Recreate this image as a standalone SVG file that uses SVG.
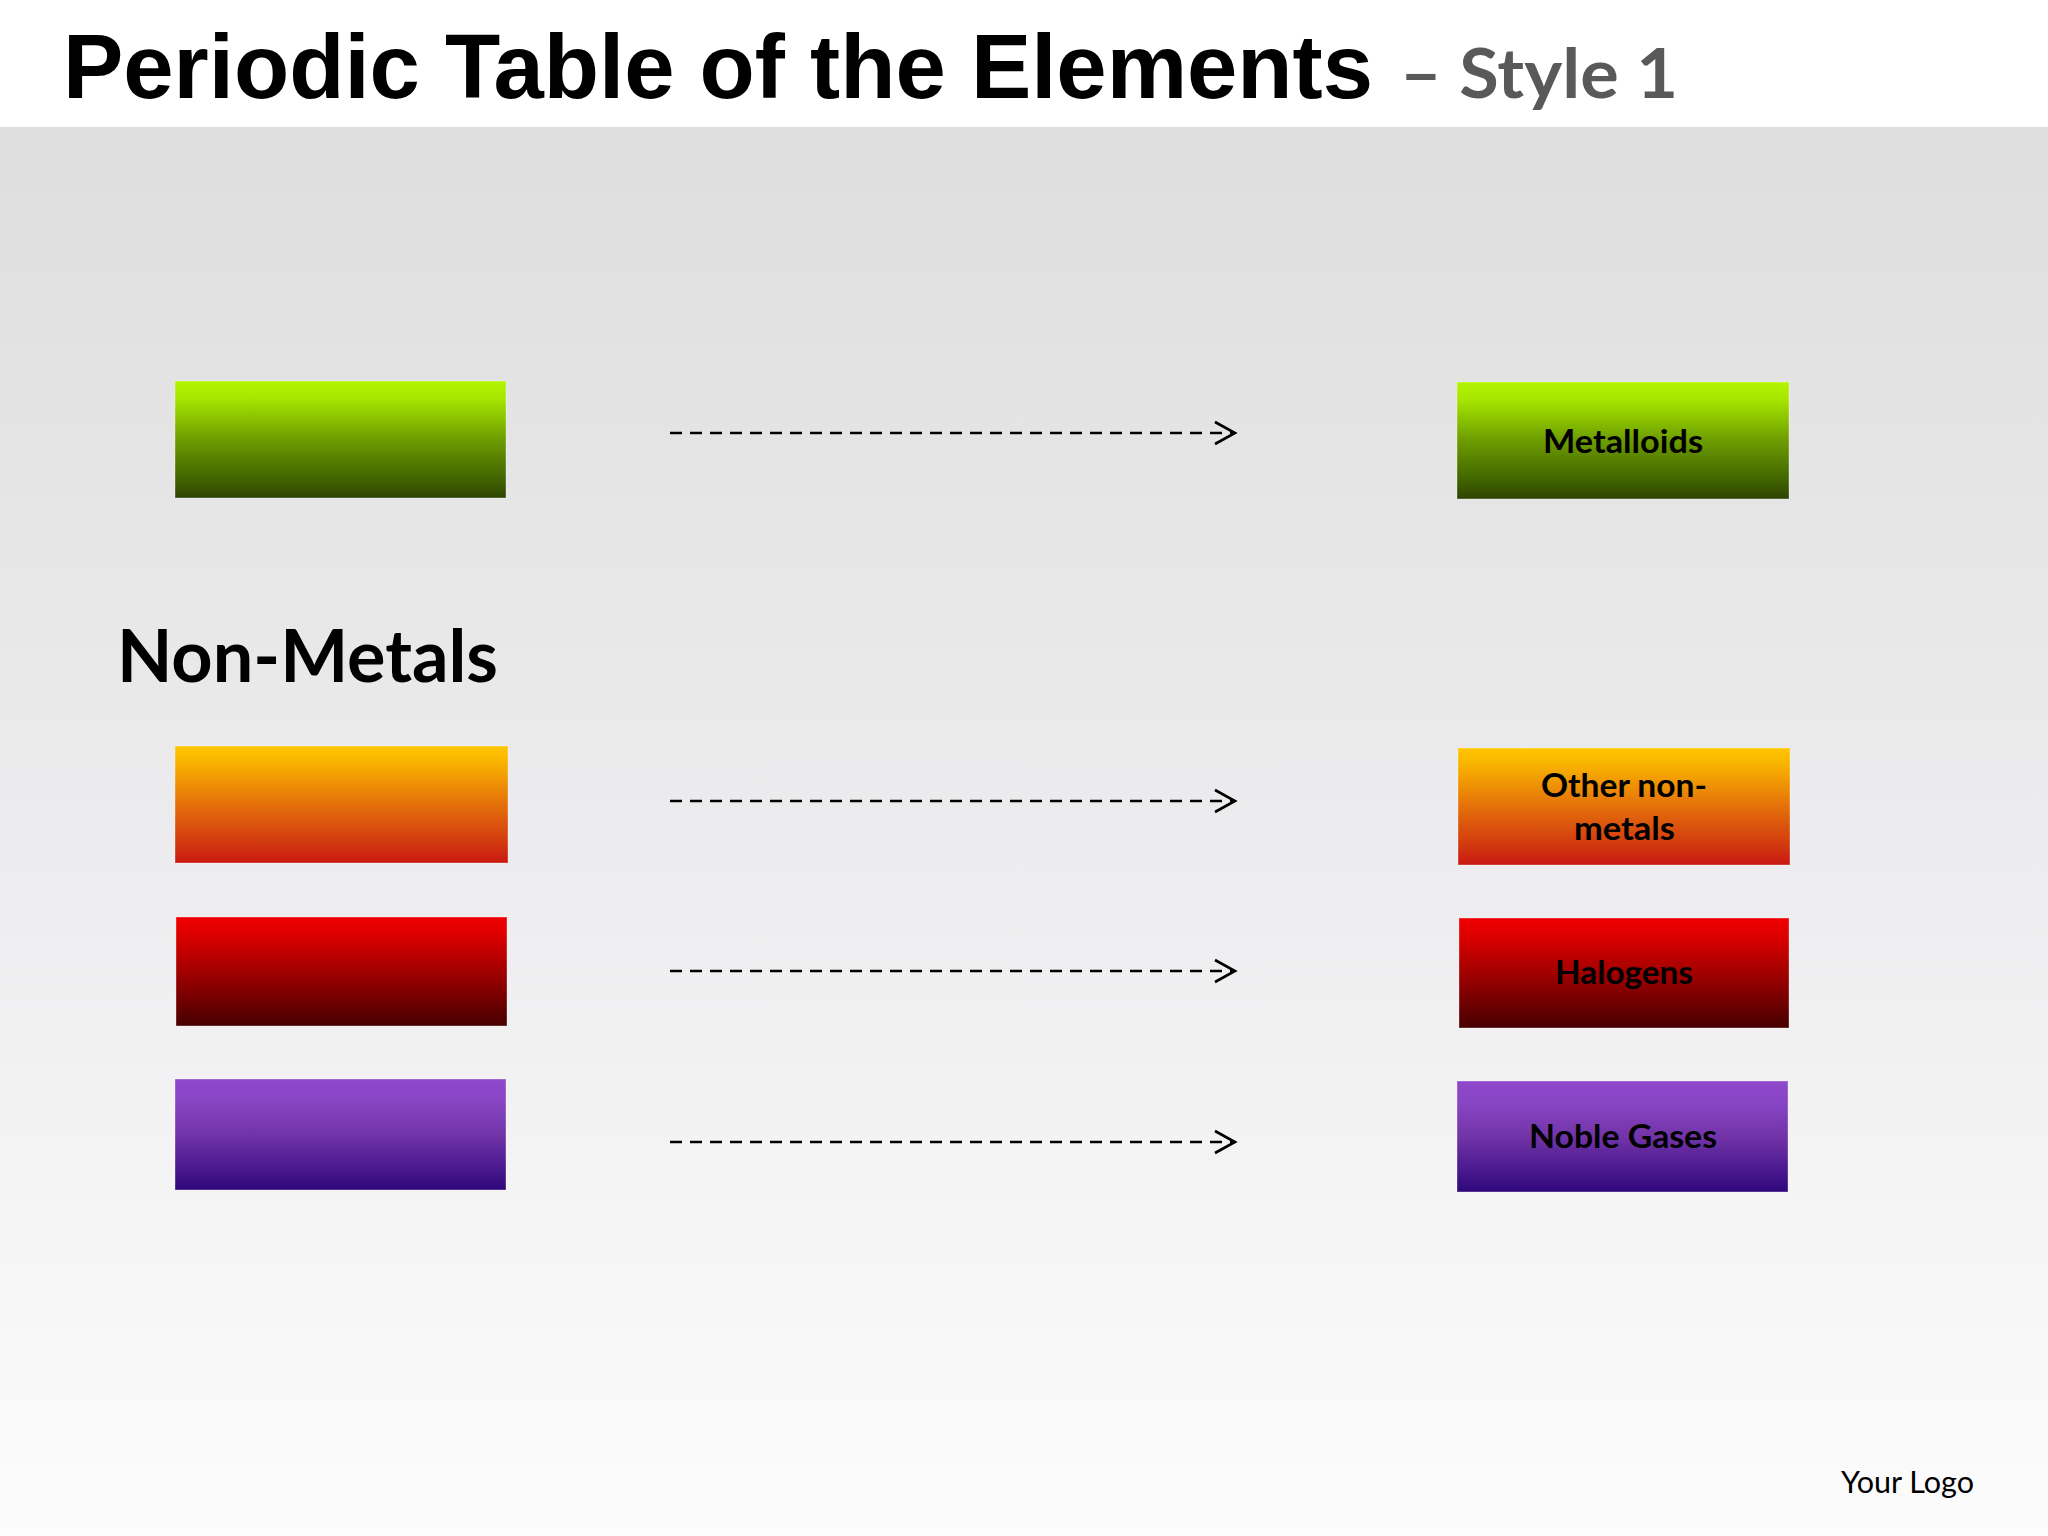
<svg xmlns="http://www.w3.org/2000/svg" width="2048" height="1536" viewBox="0 0 2048 1536">
  <defs>
    <linearGradient id="bg" x1="0" y1="0" x2="0" y2="1">
      <stop offset="0" stop-color="#dedede"/>
      <stop offset="0.5" stop-color="#ececee"/>
      <stop offset="1" stop-color="#fcfcfd"/>
    </linearGradient>
    <linearGradient id="gGreen" x1="0" y1="0" x2="0" y2="1">
      <stop offset="0" stop-color="#b4f500"/>
      <stop offset="0.15" stop-color="#a6e600"/>
      <stop offset="0.5" stop-color="#6d9c00"/>
      <stop offset="0.85" stop-color="#3f6200"/>
      <stop offset="1" stop-color="#2e4400"/>
    </linearGradient>
    <linearGradient id="gOrange" x1="0" y1="0" x2="0" y2="1">
      <stop offset="0" stop-color="#ffc600"/>
      <stop offset="0.12" stop-color="#fab600"/>
      <stop offset="0.5" stop-color="#e4700a"/>
      <stop offset="0.85" stop-color="#d13510"/>
      <stop offset="1" stop-color="#c91812"/>
    </linearGradient>
    <linearGradient id="gRed" x1="0" y1="0" x2="0" y2="1">
      <stop offset="0" stop-color="#f00000"/>
      <stop offset="0.15" stop-color="#df0000"/>
      <stop offset="0.5" stop-color="#a20000"/>
      <stop offset="0.85" stop-color="#620000"/>
      <stop offset="1" stop-color="#460000"/>
    </linearGradient>
    <linearGradient id="gPurple" x1="0" y1="0" x2="0" y2="1">
      <stop offset="0" stop-color="#8f49cc"/>
      <stop offset="0.2" stop-color="#8845c4"/>
      <stop offset="0.5" stop-color="#7234a8"/>
      <stop offset="0.8" stop-color="#4a1990"/>
      <stop offset="1" stop-color="#2e077a"/>
    </linearGradient>
    <marker id="chev" markerUnits="userSpaceOnUse" markerWidth="30" markerHeight="30" refX="22" refY="12" orient="auto" viewBox="0 0 30 24">
      <path d="M2,1 L22,12 L2,23" fill="none" stroke="#000" stroke-width="2.6"/>
    </marker>
  </defs>
  <style>
    .box { stroke: #ffffff; stroke-opacity: 0.35; stroke-width: 1; }
    .conn { fill: none; stroke: #000; stroke-width: 2.6; stroke-dasharray: 12 8; marker-end: url(#chev); }
    .lbl { font-family: Lato, "Open Sans", "Liberation Sans", sans-serif; font-weight: 700; font-size: 32px; fill: #000; text-anchor: start; }
  </style>

  <rect x="0" y="0" width="2048" height="1536" fill="#ffffff"/>
  <rect x="0" y="127" width="2048" height="1409" fill="url(#bg)"/>

  <g id="title">
    <text x="63" y="98" font-family="'Liberation Sans', Arial, sans-serif" font-weight="700" font-size="90" fill="#000" textLength="1310" lengthAdjust="spacingAndGlyphs">Periodic Table of the Elements</text>
    <text x="1400" y="98" font-family="Lato, 'Open Sans', sans-serif" font-weight="700" font-size="68" fill="#595959" textLength="278" lengthAdjust="spacingAndGlyphs">– Style 1</text>
  </g>

  <g id="heading-nonmetals">
    <text x="117" y="682" font-family="Lato, 'Open Sans', sans-serif" font-weight="700" font-size="72" fill="#000" textLength="381" lengthAdjust="spacingAndGlyphs">Non-Metals</text>
  </g>

  <g id="left-green"><rect class="box" x="175" y="381" width="331" height="117" fill="url(#gGreen)"/></g>
  <g id="left-orange"><rect class="box" x="175" y="746" width="333" height="117" fill="url(#gOrange)"/></g>
  <g id="left-red"><rect class="box" x="176" y="917" width="331" height="109" fill="url(#gRed)"/></g>
  <g id="left-purple"><rect class="box" x="175" y="1079" width="331" height="111" fill="url(#gPurple)"/></g>

  <g id="metalloids">
    <rect class="box" x="1457" y="382" width="332" height="117" fill="url(#gGreen)"/>
    <text class="lbl" x="1543" y="453" textLength="160" lengthAdjust="spacingAndGlyphs">Metalloids</text>
  </g>
  <g id="other-nonmetals">
    <rect class="box" x="1458" y="748" width="332" height="117" fill="url(#gOrange)"/>
    <text class="lbl" x="1541" y="797" textLength="166" lengthAdjust="spacingAndGlyphs">Other non-</text>
    <text class="lbl" x="1574" y="840" textLength="101" lengthAdjust="spacingAndGlyphs">metals</text>
  </g>
  <g id="halogens">
    <rect class="box" x="1459" y="918" width="330" height="110" fill="url(#gRed)"/>
    <text class="lbl" x="1555" y="984" textLength="138" lengthAdjust="spacingAndGlyphs">Halogens</text>
  </g>
  <g id="noble-gases">
    <rect class="box" x="1457" y="1081" width="331" height="111" fill="url(#gPurple)"/>
    <text class="lbl" x="1529" y="1148" textLength="188" lengthAdjust="spacingAndGlyphs">Noble Gases</text>
  </g>

  <g id="connectors">
    <line class="conn" x1="670" y1="433" x2="1235" y2="433"/>
    <line class="conn" x1="670" y1="801" x2="1235" y2="801"/>
    <line class="conn" x1="670" y1="971" x2="1235" y2="971"/>
    <line class="conn" x1="670" y1="1142" x2="1235" y2="1142"/>
  </g>

  <g id="logo">
    <text x="1841" y="1493" font-family="Lato, 'Open Sans', sans-serif" font-size="31" fill="#000" textLength="133" lengthAdjust="spacingAndGlyphs">Your Logo</text>
  </g>
</svg>
